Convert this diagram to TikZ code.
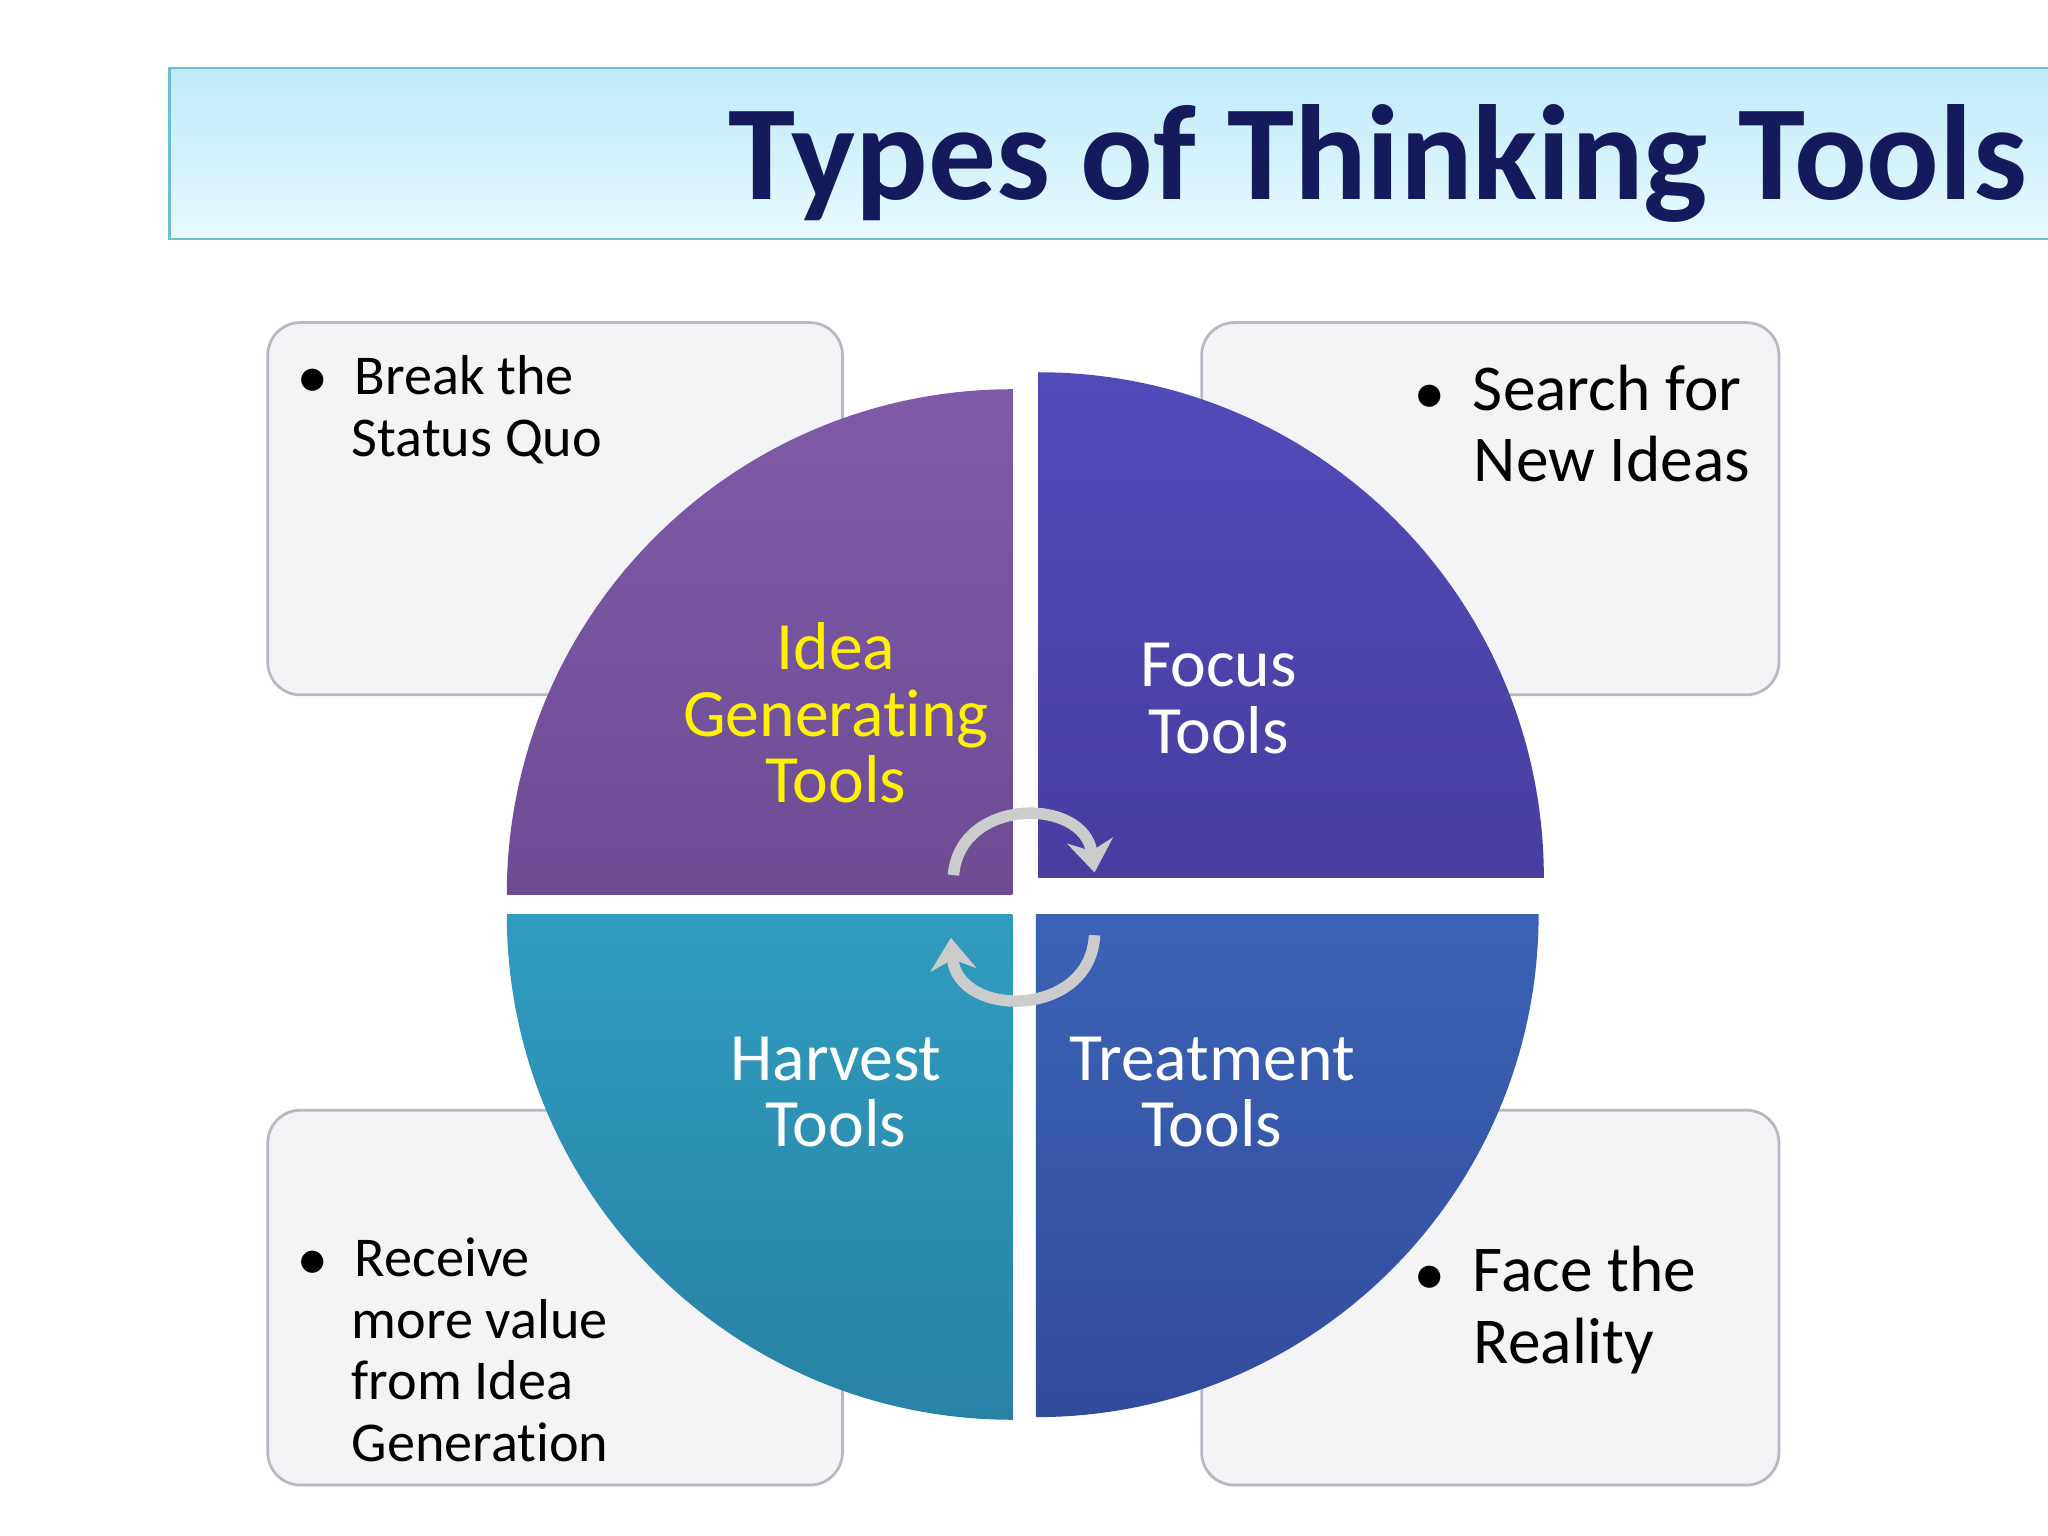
\documentclass[tikz,border=0pt]{standalone}
\usepackage{fontspec}
\usetikzlibrary{arrows.meta}
\setmainfont[Ligatures=NoCommon]{Carlito}
\definecolor{navy}{HTML}{141A5C}
\definecolor{boxfill}{HTML}{F4F4F6}
\definecolor{boxline}{HTML}{B8B8C4}
\tikzset{
  infobox/.style={draw=boxline,line width=1.2pt,fill=boxfill,rounded corners=0.5cm},
  quadtext/.style={text=white,align=center,font=\fontsize{29.5}{29}\selectfont},
  bullettext/.style={anchor=north west,align=left,inner sep=0pt},
  cyc/.style={draw=gray!40,line width=5pt,-{Stealth[length=14pt,width=20pt]}}
}
\begin{document}
\begin{tikzpicture}[x=0.02cm,y=-0.02cm]
\useasboundingbox (0,0) rectangle (1568,1176);
\fill[white] (0,0) rectangle (1568,1176);
% title
\shade[top color={rgb,255:red,190;green,234;blue,250},bottom color={rgb,255:red,232;green,250;blue,255},draw={rgb,255:red,110;green,190;blue,210},line width=1.2pt] (130,52) rectangle (1575,183);
\node[anchor=base east,text=navy,font=\fontsize{59}{59}\selectfont\bfseries,inner sep=0pt] (title) at (1552,153) {Types of Thinking Tools};
% boxes
\draw[infobox] (205,247) rectangle (645,532);
\draw[infobox] (920,247) rectangle (1362,532);
\draw[infobox] (205,850) rectangle (645,1137);
\draw[infobox] (920,850) rectangle (1362,1137);
% quadrants
\begin{scope}\clip (300,200) rectangle (775,685);
\shade[top color={rgb,255:red,126;green,90;blue,168},bottom color={rgb,255:red,92;green,62;blue,128}] (775,685) circle (387);
\end{scope}
\begin{scope}\clip (795,200) rectangle (1300,672);
\shade[top color={rgb,255:red,82;green,74;blue,186},bottom color={rgb,255:red,62;green,50;blue,134}] (795,672) circle (387);
\end{scope}
\begin{scope}\clip (300,700) rectangle (775,1200);
\shade[top color={rgb,255:red,56;green,182;blue,218},bottom color={rgb,255:red,40;green,130;blue,165}] (775,700) circle (387);
\end{scope}
\begin{scope}\clip (793,700) rectangle (1300,1200);
\shade[top color={rgb,255:red,68;green,122;blue,206},bottom color={rgb,255:red,50;green,76;blue,156}] (793,700) circle (385);
\end{scope}
\node[quadtext,text=yellow] (q1) at (640,546) {Idea\\Generating\\Tools};
\node[quadtext] (q2) at (933,535) {Focus\\Tools};
\node[quadtext] (q3) at (640,836) {Harvest\\Tools};
\node[quadtext] (q4) at (928,836) {Treatment\\Tools};
% cycle arrows
\coordinate (a1) at (730,670);
\coordinate (a2) at (838,668);
\coordinate (a3) at (838,716);
\coordinate (a4) at (728,718);
\draw[cyc] (a1) .. controls (735,610) and (830,610) .. (a2);
\draw[cyc] (a3) .. controls (835,780) and (733,780) .. (a4);
% bullet texts
\begin{scope}[font=\fontsize{24.5}{27}\selectfont]
\node[bullettext] (b1) at (228,272) {$\bullet$\hspace{0.5em}Break the\\\hspace{0.95em}Status Quo};
\node[bullettext] (b3) at (228,947) {$\bullet$\hspace{0.5em}Receive\\\hspace{0.95em}more value\\\hspace{0.95em}from Idea\\\hspace{0.95em}Generation};
\end{scope}
\begin{scope}[font=\fontsize{28.5}{31}\selectfont]
\node[bullettext] (b2) at (1083,279) {$\bullet$\hspace{0.45em}Search for\\\hspace{0.9em}New Ideas};
\node[bullettext] (b4) at (1083,954) {$\bullet$\hspace{0.45em}Face the\\\hspace{0.9em}Reality};
\end{scope}
\end{tikzpicture}
\end{document}
